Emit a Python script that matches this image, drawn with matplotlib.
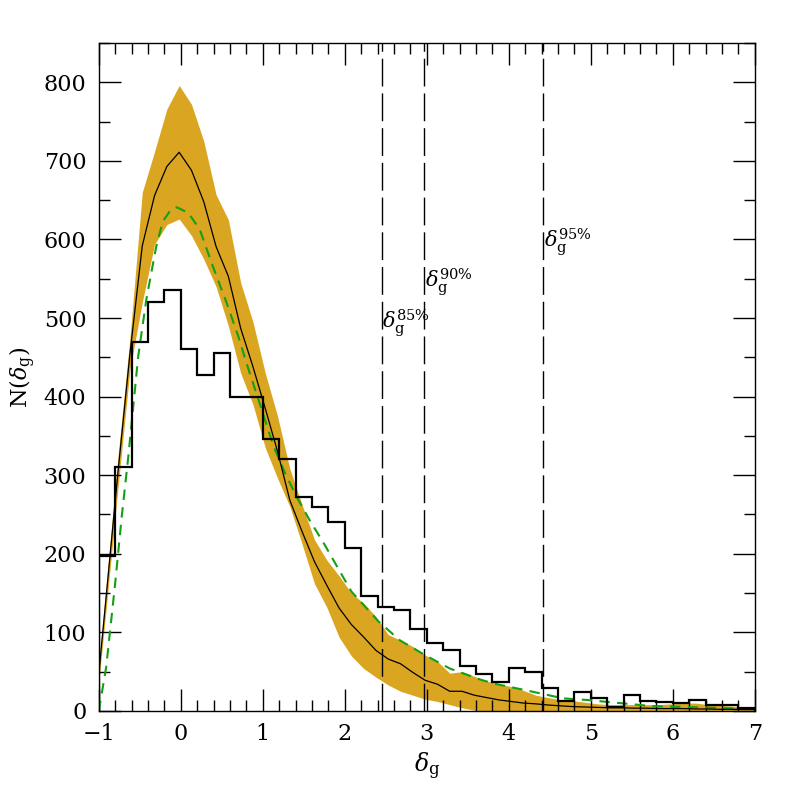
import numpy as np
import matplotlib
matplotlib.use("Agg")
import matplotlib.pyplot as plt
from matplotlib.ticker import MultipleLocator

plt.rcParams['font.family'] = ['DejaVu Serif']
plt.rcParams['mathtext.fontset'] = 'dejavuserif'

# ---- data ----
hist_edges = [-1.0, -0.8, -0.6, -0.4, -0.2, 0.0, 0.2, 0.4, 0.6, 0.8, 1.0, 1.2, 1.4, 1.6, 1.8,
              2.0, 2.2, 2.4, 2.6, 2.8, 3.0, 3.2, 3.4, 3.6, 3.8, 4.0, 4.2, 4.4, 4.6, 4.8,
              5.0, 5.2, 5.4, 5.6, 5.8, 6.0, 6.2, 6.4, 6.6, 6.8, 7.0]
hist_counts = [197, 310, 470, 520, 536, 461, 427, 455, 400, 400, 346, 321, 272, 259, 240,
               207, 146, 132, 129, 104, 87, 78, 57, 47, 37, 54, 50, 29, 12, 24,
               16, 5.5, 20, 13, 11, 10, 14, 7.5, 7.5, 4]

mock_x = [-1.0, -0.92, -0.77, -0.62, -0.47, -0.32, -0.17, -0.02, 0.13, 0.28, 0.43, 0.58,
          0.73, 0.88, 1.03, 1.18, 1.33, 1.48, 1.63, 1.78, 1.93, 2.08, 2.23, 2.38, 2.53,
          2.68, 2.83, 2.98, 3.13, 3.28, 3.43, 3.58, 3.73, 3.88, 4.03, 4.18, 4.33, 4.48,
          4.63, 4.78, 4.93, 5.08, 5.23, 5.38, 5.53, 5.68, 5.83, 5.98, 6.13, 6.28, 6.43,
          6.58, 6.73, 6.88, 7.0]
mock_median = [48, 135, 300, 455, 592, 656, 693, 711, 688, 648, 591, 553,
               487, 438, 385, 330, 268, 228, 190, 160, 131, 110, 94, 77, 66,
               60, 49, 39, 34, 25, 25, 20, 17, 14, 12, 10, 9, 7.5,
               6.5, 5.5, 5, 4.5, 4, 4, 3.5, 3.5, 3, 3, 3, 2.5, 2.5,
               2, 2, 2, 2]
mock_upper = [60, 150, 320, 475, 660, 712, 766, 796, 772, 725, 657, 625,
              545, 495, 430, 375, 308, 262, 218, 192, 172, 150, 137, 120, 97,
              90, 82, 71, 63, 48, 50, 44, 38, 34, 31, 26, 20, 17,
              14, 13, 11, 9, 8, 8, 8, 8, 8, 9, 10, 10, 8,
              7, 6, 5, 5]
mock_lower = [38, 120, 280, 435, 520, 594, 619, 626, 605, 575, 540, 490,
              430, 390, 335, 296, 260, 212, 162, 132, 94, 70, 54, 43, 33,
              25, 20, 15, 12, 8, 4, 1, 0, 0, 0, 0, 0, 0,
              0, 0, 0, 0, 0, 0, 0, 0, 0, 0, 0, 0, 0,
              0, 0, 0, 0]

model_x = [-1.0, -0.91, -0.80, -0.72, -0.64, -0.52, -0.42, -0.30, -0.22, -0.12, -0.05,
           0.09, 0.23, 0.39, 0.56, 0.70, 0.80, 0.96, 1.13, 1.27, 1.41, 1.57, 1.74,
           2.08, 2.41, 2.67, 2.98, 3.28, 3.65, 3.81, 4.13, 4.40, 4.66, 4.95, 5.35,
           5.76, 6.17, 6.98]
model_y = [0, 56, 163, 248, 324, 451, 524, 591, 623, 638, 641,
           634, 613, 566, 519, 477, 443, 392, 337, 303, 273, 243, 214,
           152, 114, 90, 71, 54, 40, 35, 28, 22, 16, 14, 10,
           6, 5, 2.5]

pct_x = [2.45, 2.97, 4.42]
pct_labels = [r'$\delta_{\rm g}^{85\%}$', r'$\delta_{\rm g}^{90\%}$', r'$\delta_{\rm g}^{95\%}$']
pct_label_y = [487, 540, 590]

# ---- figure ----
fig = plt.figure(figsize=(7.97, 7.97), dpi=100)
ax = fig.add_axes([0.124, 0.108, 0.823, 0.838])

ax.fill_between(mock_x, mock_lower, mock_upper, color='#DAA520', lw=0, zorder=1)
ax.plot(model_x, model_y, color='#14a014', lw=1.5, ls=(0, (5, 3.5)), zorder=3)
ax.plot(mock_x, mock_median, color='k', lw=0.9, zorder=4)
ax.stairs(hist_counts, hist_edges, color='k', lw=1.6, baseline=0, zorder=5)

for xv, lab, yv in zip(pct_x, pct_labels, pct_label_y):
    ax.axvline(xv, color='k', lw=1.0, ls=(0, (20, 5)), zorder=2)
    ax.text(xv + 0.005, yv, lab, fontsize=15, ha='left', va='baseline', zorder=6)

ax.set_xlim(-1, 7)
ax.set_ylim(0, 850)
ax.xaxis.set_major_locator(MultipleLocator(1))
ax.xaxis.set_minor_locator(MultipleLocator(0.2))
ax.yaxis.set_major_locator(MultipleLocator(100))
ax.yaxis.set_minor_locator(MultipleLocator(50))
ax.tick_params(which='both', direction='in', top=True, right=True, labelsize=16)
ax.tick_params(which='major', length=16, width=1.0)
ax.tick_params(which='minor', length=8, width=1.0)
ax.tick_params(axis='x', which='major', pad=9)
ax.tick_params(axis='y', which='major', pad=9)
for s in ax.spines.values():
    s.set_linewidth(1.0)

ax.set_xlabel(r'$\delta_{\rm g}$', fontsize=17, labelpad=4)
ax.set_ylabel(r'N($\delta_{\rm g}$)', fontsize=16, labelpad=4)

fig.savefig('out.png', dpi=100)
